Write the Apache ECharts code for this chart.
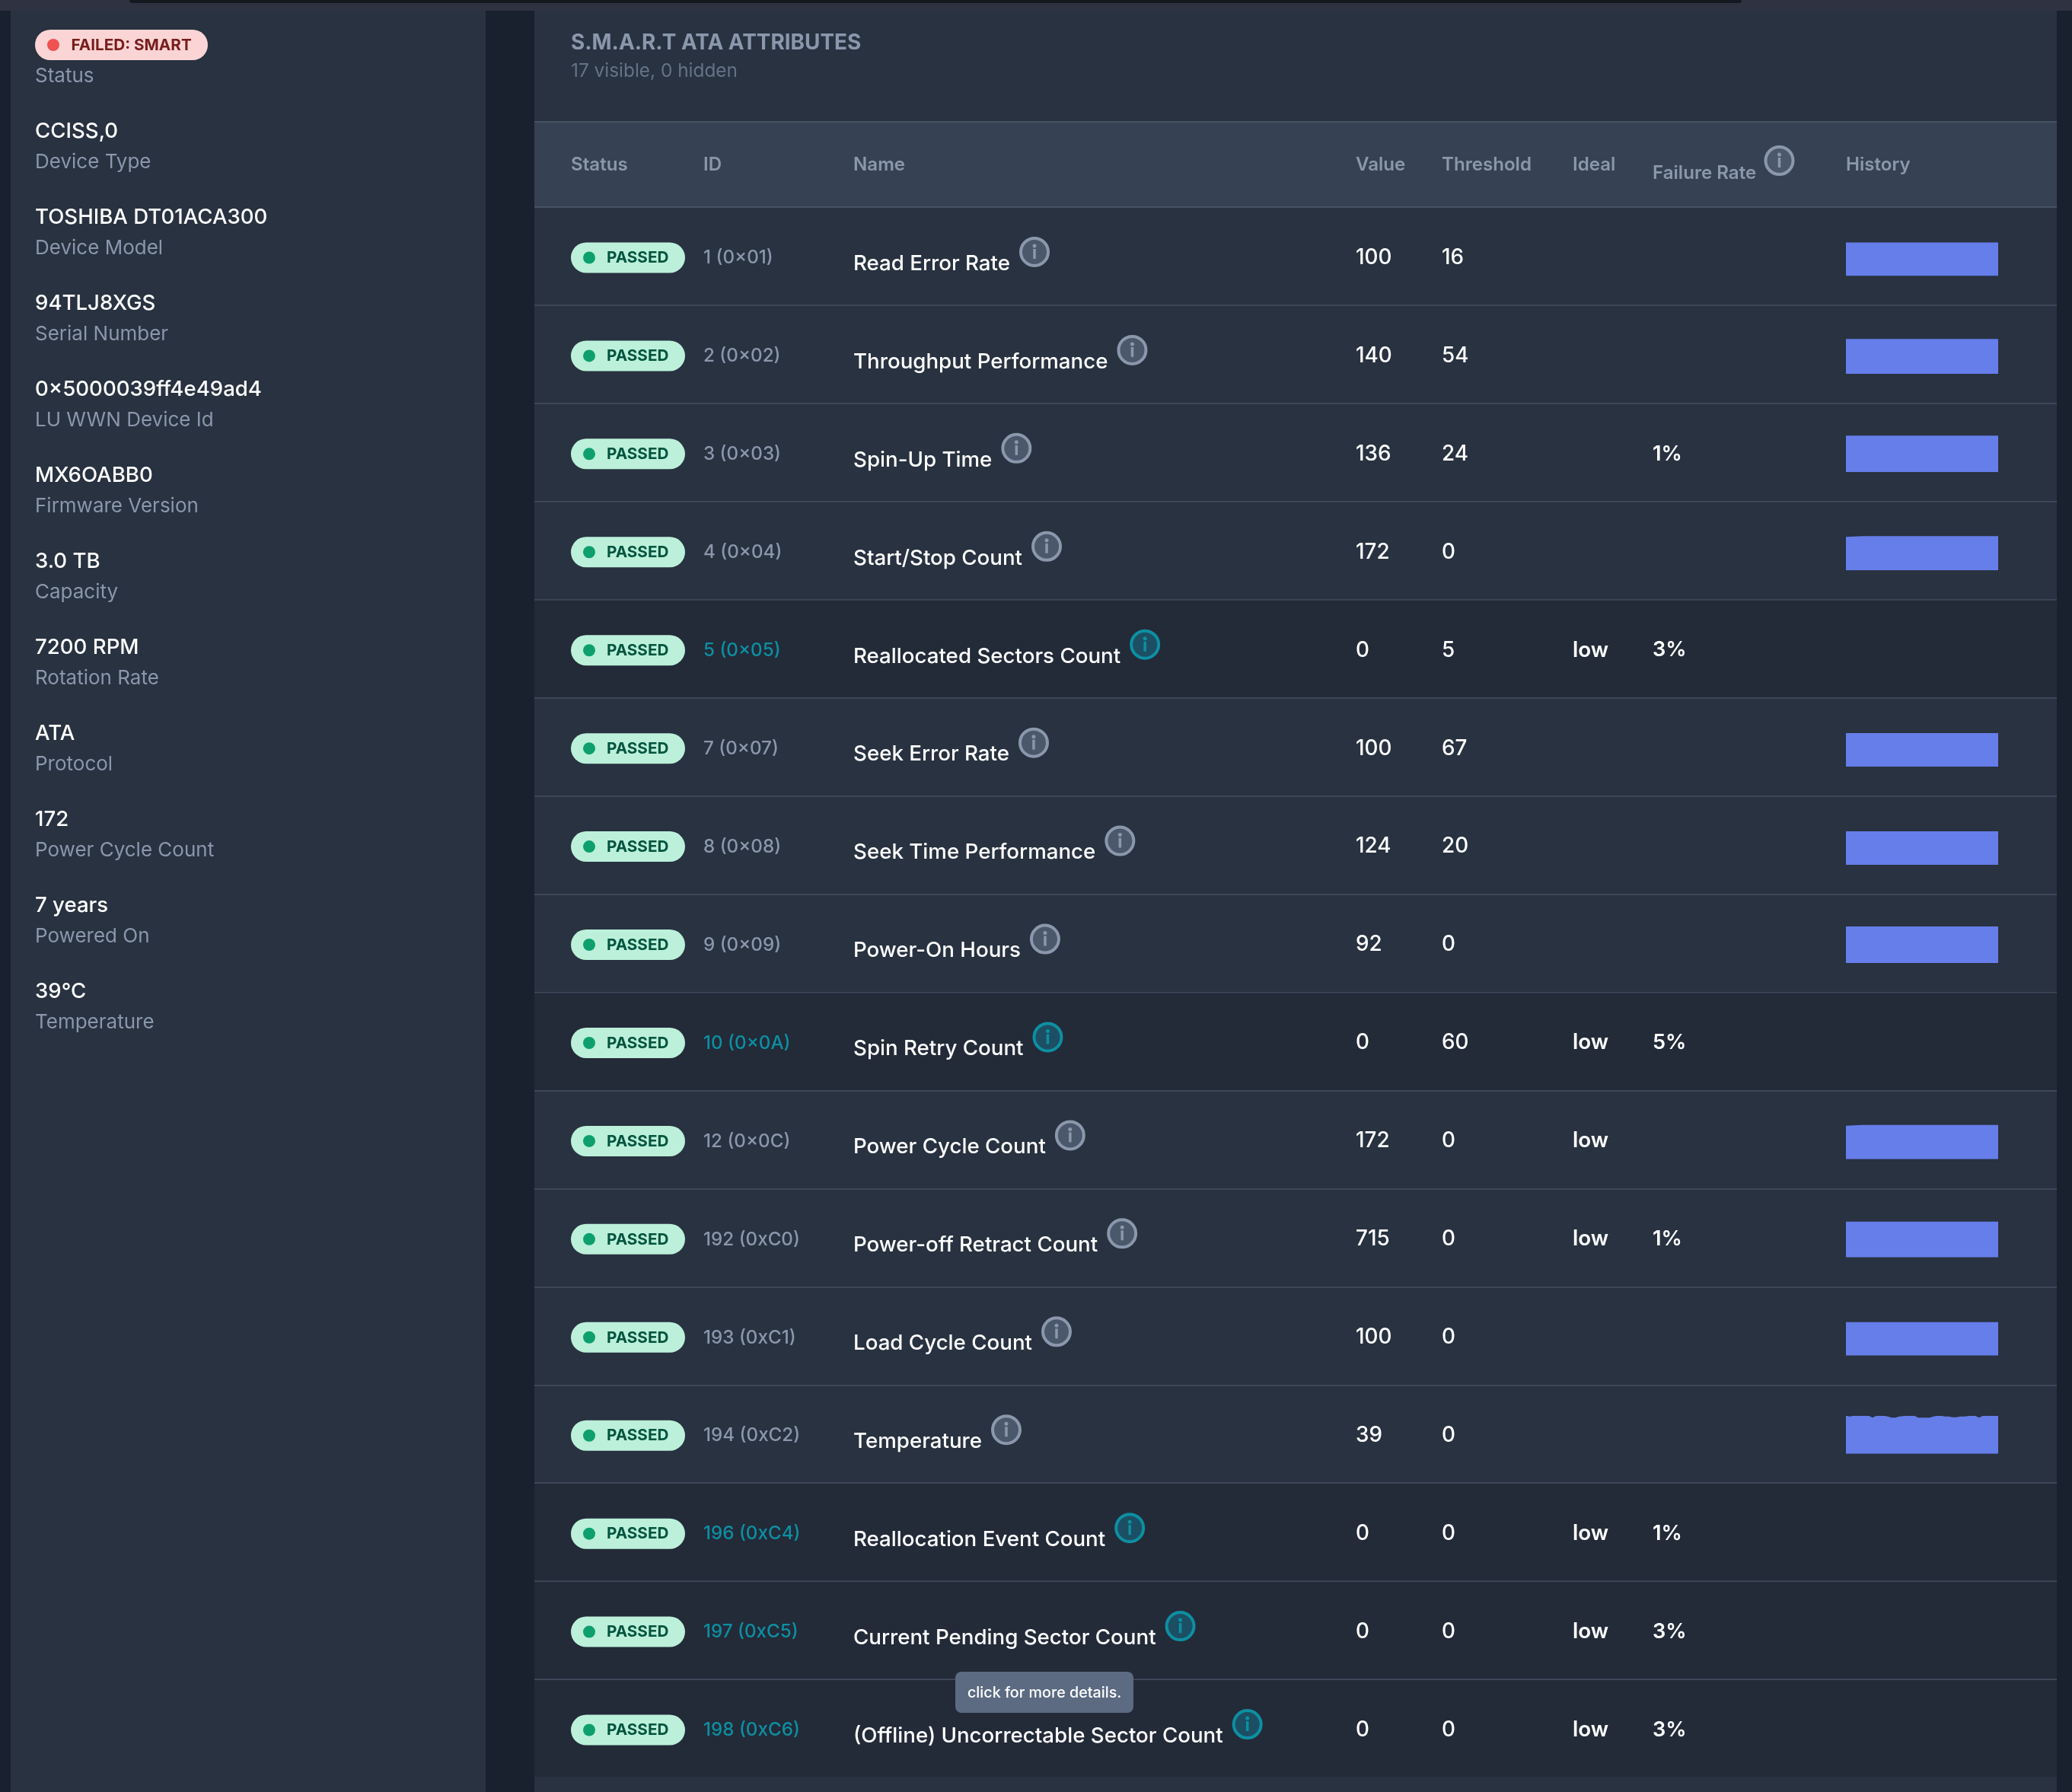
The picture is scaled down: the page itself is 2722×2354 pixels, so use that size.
<!DOCTYPE html>
<html>
<head>
<meta charset="utf-8">
<title>S.M.A.R.T ATA Attributes</title>
<script src="https://cdn.jsdelivr.net/npm/echarts@6/dist/echarts.min.js"></script>
<style>
  html, body { margin: 0; padding: 0; background: #1a212e; }
  #chart { width: 2722px; height: 2354px; }
</style>
</head>
<body>
<div id="chart"></div>
<script>
// sidebar
const deviceValues = ['CCISS,0', 'TOSHIBA DT01ACA300', '94TLJ8XGS', '0×5000039ff4e49ad4', 'MX6OABB0', '3.0 TB', '7200 RPM', 'ATA', '172', '7 years', '39°C'];
const deviceLabels = ['Device Type', 'Device Model', 'Serial Number', 'LU WWN Device Id', 'Firmware Version', 'Capacity', 'Rotation Rate', 'Protocol', 'Power Cycle Count', 'Powered On', 'Temperature'];

// table
const headers = ['Status', 'ID', 'Name', 'Value', 'Threshold', 'Ideal', 'Failure Rate', 'History'];
const statuses = ['PASSED', 'PASSED', 'PASSED', 'PASSED', 'PASSED', 'PASSED', 'PASSED', 'PASSED', 'PASSED', 'PASSED', 'PASSED', 'PASSED', 'PASSED', 'PASSED', 'PASSED', 'PASSED'];
const ids = ['1 (0×01)', '2 (0×02)', '3 (0×03)', '4 (0×04)', '5 (0×05)', '7 (0×07)', '8 (0×08)', '9 (0×09)', '10 (0×0A)', '12 (0×0C)', '192 (0xC0)', '193 (0xC1)', '194 (0xC2)', '196 (0xC4)', '197 (0xC5)', '198 (0xC6)'];
const names = ['Read Error Rate', 'Throughput Performance', 'Spin-Up Time', 'Start/Stop Count', 'Reallocated Sectors Count', 'Seek Error Rate', 'Seek Time Performance', 'Power-On Hours', 'Spin Retry Count', 'Power Cycle Count', 'Power-off Retract Count', 'Load Cycle Count', 'Temperature', 'Reallocation Event Count', 'Current Pending Sector Count', '(Offline) Uncorrectable Sector Count'];
const values = [100, 140, 136, 172, 0, 100, 124, 92, 0, 172, 715, 100, 39, 0, 0, 0];
const thresholds = [16, 54, 24, 0, 5, 67, 20, 0, 60, 0, 0, 0, 0, 0, 0, 0];
const ideals = ['', '', '', '', 'low', '', '', '', 'low', 'low', 'low', '', '', 'low', 'low', 'low'];
const failureRates = ['', '', '1%', '', '3%', '', '', '', '5%', '', '1%', '', '', '1%', '3%', '3%'];
const critical = [4, 8, 13, 14, 15];

// sparkline heights
const historyRead = [44, 44, 44, 44, 44, 44, 44, 44, 44, 44];
const historyThroughput = [46, 46, 46, 46, 46, 46, 46, 46, 46, 46];
const historySpinUp = [48, 48, 48, 48, 48, 48, 48, 48, 48, 48];
const historyStartStop = [44, 45, 45, 45, 45, 45, 45, 45, 45, 45];
const historySeekError = [44, 44, 44, 44, 44, 44, 44, 44, 44, 44];
const historySeekTime = [44, 44, 44, 44, 44, 44, 44, 44, 44, 44];
const historyPowerOn = [48, 48, 48, 48, 48, 48, 48, 48, 48, 48];
const historyCycle = [44, 45, 45, 45, 45, 45, 45, 45, 45, 45];
const historyRetract = [47, 47, 47, 47, 47, 47, 47, 47, 47, 47];
const historyLoad = [44, 44, 44, 44, 44, 44, 44, 44, 44, 44];
const historyTemp = [50, 49, 50, 50, 50, 50, 50, 47.5, 50, 50, 50, 49, 47.5, 47.5, 49, 49.5, 50, 50, 50, 47.5, 47.5, 47.5, 47.5, 49, 50, 50, 49, 49, 48, 48, 49, 49, 49.5, 50, 50, 47.5, 50, 50, 50, 50, 50];
const histories = [historyRead, historyThroughput, historySpinUp, historyStartStop, null, historySeekError, historySeekTime, historyPowerOn, null, historyCycle, historyRetract, historyLoad, historyTemp, null, null, null];

const FONT = 'Inter, "Noto Sans", sans-serif';
const C = {
  page: '#1a212e', panel: '#283240', band: '#2f3341', topBar: '#14181f', head: '#364253',
  headLine: '#465162', line: '#3d4757', critRow: '#232a38', white: '#ffffff', muted: '#8a97ac',
  dim: '#647387', teal: '#0d8fa1', spark: '#667eea', tip: '#5c6b82'
};

const TABLE_LEFT = 702, TABLE_W = 2000, ROWS_TOP = 272, ROWS_H = 2063;
const COL = { status: 48, id: 222, name: 419, value: 1079, threshold: 1192, ideal: 1364, failure: 1469, history: 1723 };
const headerX = [COL.status, COL.id, COL.name, COL.value, COL.threshold, COL.ideal, COL.failure, COL.history];
const rowH = ROWS_H / ids.length;

const measure = document.createElement('canvas').getContext('2d');
function textWidth(str, font){
  measure.font = font;
  return measure.measureText(str).width;
}

function txt(str, x, y, size, weight, fill, z){
  return {
    type: 'text', z: z || 0, silent: true,
    style: { text: str, x, y, fontFamily: FONT, fontSize: size, fontWeight: weight, fill, align: 'left', verticalAlign: 'middle' }
  };
}

function pill(x, y, w, h, bg, dot, label, labelColor, dotX, labelX){
  return [
    { type: 'rect', shape: { x, y, width: w, height: h, r: h / 2 }, style: { fill: bg } },
    { type: 'circle', shape: { cx: dotX, cy: y + h / 2, r: 8 }, style: { fill: dot } },
    txt(label, labelX, y + h / 2 + 0.5, 20.7, 700, labelColor)
  ];
}

function infoIcon(cx, cy, ring, fill, z){
  return [
    { type: 'circle', z: z || 0, shape: { cx, cy, r: 18 }, style: { fill, stroke: ring, lineWidth: 4 } },
    { type: 'circle', z: z || 0, shape: { cx, cy: cy - 8, r: 2.5 }, style: { fill: ring } },
    { type: 'rect', z: z || 0, shape: { x: cx - 1.75, y: cy - 4, width: 3.5, height: 13 }, style: { fill: ring } }
  ];
}

function renderRow(params, api){
  const i = api.value(0);
  const [left, mid] = api.coord([0, i]);
  const band = api.size([0, 1])[1];
  const crit = critical.includes(i);
  const kids = [];
  if (crit) {
    kids.push({ type: 'rect', shape: { x: left, y: mid - band / 2 + 1, width: TABLE_W, height: band - 2 }, style: { fill: C.critRow } });
  }
  kids.push(...pill(left + COL.status, mid - 18, 150, 40, '#bcf0da', '#0e9f6e', statuses[i], '#03543f', left + COL.status + 24, left + COL.status + 47));
  kids.push(txt(ids[i], left + COL.id, mid + 2.5, 24.2, 500, crit ? C.teal : C.muted));
  kids.push(txt(names[i], left + COL.name, mid + 10, 27.7, 500, C.white));
  const nameW = textWidth(names[i], `500 27.7px ${FONT}`);
  kids.push(...infoIcon(left + COL.name + nameW + 32, mid - 5.5, crit ? C.teal : C.muted, crit ? '#1c4f64' : '#4b576b'));
  kids.push(txt(String(values[i]), left + COL.value, mid + 2, 27.8, 500, C.white));
  kids.push(txt(String(thresholds[i]), left + COL.threshold, mid + 2, 27.8, 500, C.white));
  kids.push(txt(ideals[i], left + COL.ideal, mid + 2, 27.8, 600, C.white));
  kids.push(txt(failureRates[i], left + COL.failure, mid + 2, 27.2, 600, C.white));
  return { type: 'group', children: kids };
}

function buildChrome(){
  const els = [
    { type: 'rect', z: -10, shape: { x: 0, y: 0, width: 2722, height: 14 }, style: { fill: C.band } },
    { type: 'rect', z: -10, shape: { x: 170, y: 0, width: 2118, height: 4, r: [0, 0, 6, 6] }, style: { fill: C.topBar } },
    { type: 'rect', z: -10, shape: { x: 14, y: 14, width: 624, height: 2340 }, style: { fill: C.panel } },
    { type: 'rect', z: -10, shape: { x: TABLE_LEFT, y: 14, width: TABLE_W, height: 2340 }, style: { fill: C.panel } },
    { type: 'rect', z: -10, shape: { x: TABLE_LEFT, y: 159, width: TABLE_W, height: 114 }, style: { fill: C.headLine } },
    { type: 'rect', z: -9, shape: { x: TABLE_LEFT, y: 161, width: TABLE_W, height: 110 }, style: { fill: C.head } }
  ];

  // status pill and device facts
  pill(46, 39, 227, 40, '#fbd5d5', '#f05252', 'FAILED: SMART', '#771d1d', 70, 93.5).forEach(e => els.push(e));
  els.push(txt('Status', 46, 100.5, 26, 400, C.muted));
  deviceValues.forEach((v, i) => {
    els.push(txt(v, 46, 173 + i * 113, 27.6, 500, C.white));
    els.push(txt(deviceLabels[i], 46, 213.5 + i * 113, 26, 400, C.muted));
  });

  // table title
  els.push(txt('S.M.A.R.T ATA ATTRIBUTES', 750, 57, 27.9, 700, C.muted));
  els.push(txt('17 visible, 0 hidden', 750, 94, 24.4, 400, C.dim));

  // table header
  headers.forEach((h, i) => {
    const y = h === 'Failure Rate' ? 228 : 217;
    els.push(txt(h, TABLE_LEFT + headerX[i], y, 24.1, 600, C.muted));
  });
  infoIcon(2337.5, 211, C.muted, '#4b576b').forEach(e => els.push(e));

  // tooltip over the last row
  els.push({ type: 'rect', z: 50, shape: { x: 1255, y: 2196, width: 234, height: 54, r: 8 }, style: { fill: C.tip } });
  els.push(txt('click for more details.', 1271, 2224.5, 19.7, 500, C.white, 51));
  return els;
}

const grids = [{ left: TABLE_LEFT, top: ROWS_TOP, width: TABLE_W, height: ROWS_H }];
const xAxes = [{ type: 'value', gridIndex: 0, min: 0, max: TABLE_W, show: false }];
const yAxes = [{
  type: 'category', gridIndex: 0, inverse: true, data: ids,
  axisLine: { show: false }, axisTick: { show: false }, axisLabel: { show: false },
  splitLine: { show: true, showMinLine: false, showMaxLine: false, lineStyle: { color: C.line, width: 2 } }
}];
const series = [{
  type: 'custom', xAxisIndex: 0, yAxisIndex: 0, z: 2, clip: false, silent: true,
  encode: { y: 0 }, data: ids.map((_, i) => [i]), renderItem: renderRow
}];

histories.forEach((hist, i) => {
  if (!hist) return;
  const idx = grids.length;
  const bottom = ROWS_TOP + rowH * i + 90.4;
  grids.push({ left: TABLE_LEFT + COL.history, width: 200, top: bottom - 50, height: 50 });
  xAxes.push({ type: 'category', gridIndex: idx, show: false, boundaryGap: false, data: hist.map((_, k) => k) });
  yAxes.push({ type: 'value', gridIndex: idx, show: false, min: 0, max: 50 });
  series.push({
    type: 'line', xAxisIndex: idx, yAxisIndex: idx, z: 3, silent: true, data: hist,
    showSymbol: false, step: hist === historyTemp ? false : 'start',
    lineStyle: { width: 0 }, areaStyle: { color: C.spark, opacity: 1 }
  });
});

const chart = echarts.init(document.getElementById('chart'), null, { renderer: 'canvas' });
chart.setOption({
  animation: false,
  backgroundColor: C.page,
  tooltip: { show: false },
  graphic: { elements: buildChrome() },
  grid: grids,
  xAxis: xAxes,
  yAxis: yAxes,
  series
});
</script>
</body>
</html>
